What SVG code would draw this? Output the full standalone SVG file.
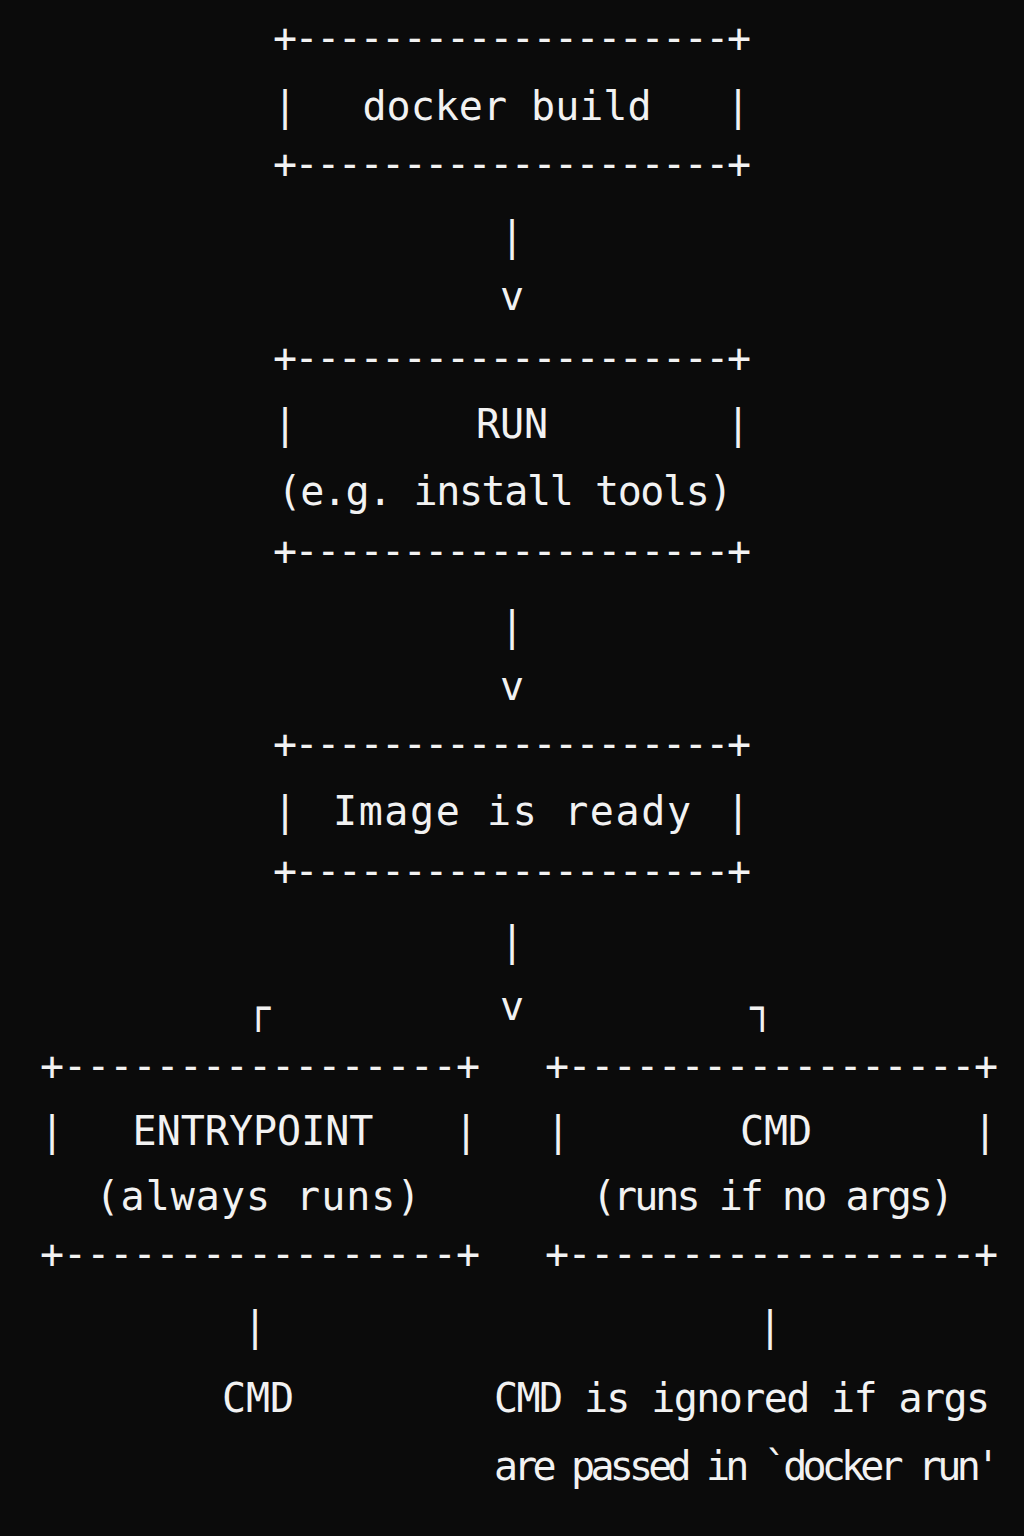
<svg xmlns="http://www.w3.org/2000/svg" width="1024" height="1536" viewBox="0 0 1024 1536">
<style>
text{font-family:"DejaVu Sans Mono","Liberation Mono",monospace;font-size:40px;fill:#f2f2f2}
.m{text-anchor:middle}
</style>
<rect width="1024" height="1536" fill="#0b0b0b"/>
<g id="build">
<text x="273" y="52" textLength="478" lengthAdjust="spacing">+--------------------+</text>
<text x="285" y="120" class="m">|</text><text x="507" y="120" class="m">docker build</text><text x="738" y="120" class="m">|</text>
<text x="273" y="178" textLength="478" lengthAdjust="spacing">+--------------------+</text>
</g>
<g id="run">
<text x="273" y="372" textLength="478" lengthAdjust="spacing">+--------------------+</text>
<text x="285" y="438" class="m">|</text><text x="512" y="438" class="m">RUN</text><text x="738" y="438" class="m">|</text>
<text x="505" y="505" class="m" textLength="455" lengthAdjust="spacing">(e.g. install tools)</text>
<text x="273" y="565" textLength="478" lengthAdjust="spacing">+--------------------+</text>
</g>
<g id="image">
<text x="273" y="758" textLength="478" lengthAdjust="spacing">+--------------------+</text>
<text x="285" y="825" class="m">|</text><text x="512" y="825" class="m" textLength="358" lengthAdjust="spacing">Image is ready</text><text x="738" y="825" class="m">|</text>
<text x="273" y="885" textLength="478" lengthAdjust="spacing">+--------------------+</text>
</g>
<g id="entrypoint">
<text x="40" y="1080" textLength="440" lengthAdjust="spacing">+-----------------+</text>
<text x="52" y="1145" class="m">|</text><text x="253" y="1145" class="m">ENTRYPOINT</text><text x="466" y="1145" class="m">|</text>
<text x="258" y="1210" class="m" textLength="325" lengthAdjust="spacing">(always runs)</text>
<text x="40" y="1268" textLength="440" lengthAdjust="spacing">+-----------------+</text>
</g>
<g id="cmd">
<text x="545" y="1080" textLength="453" lengthAdjust="spacing">+------------------+</text>
<text x="558" y="1145" class="m">|</text><text x="776" y="1145" class="m">CMD</text><text x="985" y="1145" class="m">|</text>
<text x="773" y="1210" class="m" textLength="362" lengthAdjust="spacing">(runs if no args)</text>
<text x="545" y="1268" textLength="453" lengthAdjust="spacing">+------------------+</text>
</g>
<g id="connectors">
<text x="512" y="250" class="m">|</text><text x="512" y="310" class="m">v</text>
<text x="512" y="640" class="m">|</text><text x="512" y="700" class="m">v</text>
<text x="512" y="955" class="m">|</text>
<text x="258" y="1022" class="m">┌</text><text x="512" y="1020" class="m">v</text><text x="762" y="1022" class="m">┐</text>
<text x="255" y="1340" class="m">|</text><text x="770" y="1340" class="m">|</text>
</g>
<g id="labels">
<text x="258" y="1412" class="m">CMD</text>
<text x="494" y="1412" textLength="496" lengthAdjust="spacing">CMD is ignored if args</text>
<text x="494" y="1480" textLength="506" lengthAdjust="spacing">are passed in `docker run'</text>
</g>
</svg>
